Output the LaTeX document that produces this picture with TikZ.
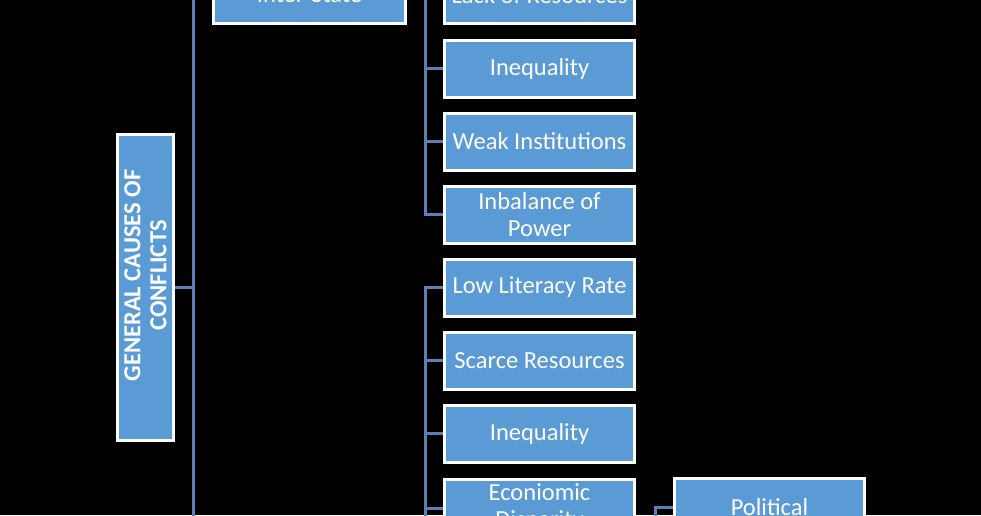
\documentclass[tikz,border=0pt]{standalone}
\usepackage{fontspec}
\setmainfont{Carlito}
\usepackage{tikz}
\usetikzlibrary{positioning}

\definecolor{boxblue}{RGB}{91,155,213}
\definecolor{linkblue}{RGB}{92,128,180}

\tikzset{
	cause/.style={draw=white, line width=3pt, fill=boxblue, text=white,
		minimum width=190pt, minimum height=57pt, inner sep=0pt, align=center,
		font=\fontsize{24.5}{27}\selectfont},
	link/.style={draw=linkblue, line width=3pt}
}

\begin{document}
\begin{tikzpicture}[x=1pt, y=-1pt]
	% frame
	\useasboundingbox (0,0) rectangle (981,515);
	\fill[black] (0,0) rectangle (981,515);
	\clip (0,0) rectangle (981,515);
	
	% root
	\node[cause, rotate=90, minimum width=306pt, minimum height=56pt,
		font=\bfseries\fontsize{24.5}{26}\selectfont] (root) at (145.5,287.5)
		{\hspace*{24pt}GENERAL CAUSES OF\\\hspace*{24pt}CONFLICTS};
	
	% second level
	\node[cause, minimum width=192pt] (inter) at (309.5,-5) {Inter-State};
	
	% causes
	\node[cause] (lack) at (539.5,-5) {Lack of Resources};
	\node[cause] (ineqa) at (539.5,68.5) {Inequality};
	\node[cause] (weak) at (539.5,141.5) {Weak Institutions};
	\node[cause] (inb) at (539.5,214.5) {Inbalance of\\Power};
	\node[cause] (low) at (539.5,287.5) {Low Literacy Rate};
	\node[cause] (scarce) at (539.5,360.5) {Scarce Resources};
	\node[cause] (ineqb) at (539.5,433.5) {Inequality};
	\node[cause] (econ) at (539.5,508) {Econiomic\\Disparity};
	\node[cause] (pol) at (769.5,507) {Political};
	
	% spines
	\coordinate (spine) at (193,-40);
	\coordinate (spineend) at (193,560);
	\coordinate (gatop) at (425,-40);
	\coordinate (gbbot) at (425,560);
	\coordinate (gcbot) at (655,560);
	
	% connectors
	\draw[link] (spine) -- (spineend);
	\draw[link] (root.south) -- (root.south -| spine);
	\draw[link] (gatop) |- (inb.west);
	\draw[link] (lack.west) -- (lack.west -| gatop);
	\draw[link] (ineqa.west) -- (ineqa.west -| gatop);
	\draw[link] (weak.west) -- (weak.west -| gatop);
	\draw[link] (low.west) -| (gbbot);
	\draw[link] (scarce.west) -- (scarce.west -| gbbot);
	\draw[link] (ineqb.west) -- (ineqb.west -| gbbot);
	\draw[link] (econ.west) -- (econ.west -| gbbot);
	\draw[link] (pol.west) -| (gcbot);
\end{tikzpicture}
\end{document}
